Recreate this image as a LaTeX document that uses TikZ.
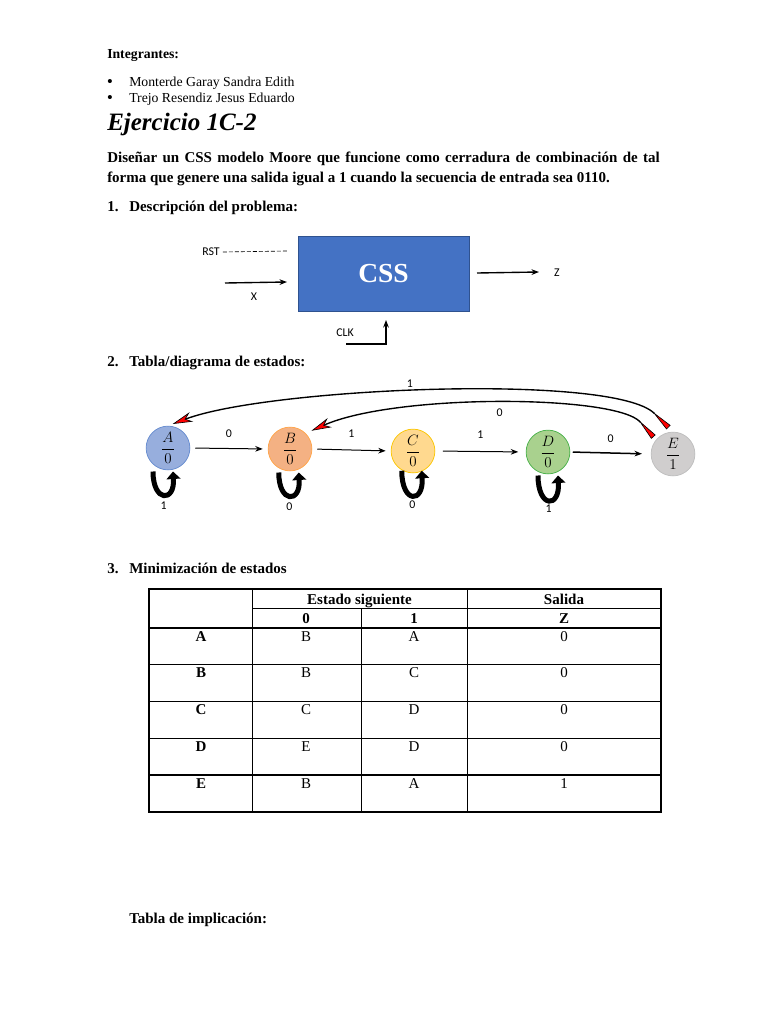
\documentclass[tikz,border=0pt]{standalone}
\usepackage{amsmath}
\usepackage{fontspec}
\setmainfont{Liberation Serif}
\newfontfamily\calibri{Carlito}
\usetikzlibrary{arrows.meta, positioning}
\definecolor{cssfondo}{HTML}{4472C4}
\definecolor{cssborde}{HTML}{2F528F}
\definecolor{azulA}{HTML}{97AEDD}
\definecolor{naranjaB}{HTML}{F4B183}
\definecolor{amarilloC}{HTML}{FFD98F}
\definecolor{verdeD}{HTML}{A9D18E}
\definecolor{grisE}{HTML}{D0CECE}

\begin{document}
\begin{tikzpicture}[x=0.8pt, y=-0.8pt, >={Stealth[length=6pt,width=4.5pt]}]
    % Estilos
    \tikzstyle{texto} = [anchor=base west, inner sep=0pt, font=\fontsize{11}{13}\selectfont]
    \tikzstyle{negrita} = [anchor=base west, inner sep=0pt, font=\bfseries\fontsize{12}{14}\selectfont]
    \tikzstyle{etiq} = [inner sep=0pt, font=\calibri\fontsize{9.5}{11}\selectfont]
    \tikzstyle{estado} = [draw, circle, minimum size=35pt, inner sep=0pt, line width=0.6pt, font=\fontsize{13}{15}\selectfont]
    \tikzstyle{lazo} = [line width=4pt, -{Triangle[length=6pt,width=11pt]}]
    \tikzstyle{curva} = [line width=1.1pt, arrows={{Triangle[reversed,length=18pt,width=4.5pt,fill=red,line width=0.5pt]}-{Stealth[length=16pt,width=8pt,inset=5pt,fill=red,line width=0.5pt]}}]
    \tikzstyle{celda} = [anchor=base, inner sep=0pt, font=\fontsize{12}{14}\selectfont]
    \tikzstyle{celdab} = [anchor=base, inner sep=0pt, font=\bfseries\fontsize{12}{14}\selectfont]

    \fill[white] (0,0) rectangle (768,1024);
    \useasboundingbox (0,0) rectangle (768,1024);

    % Encabezado
    \node[negrita, font=\bfseries\fontsize{11}{13}\selectfont] (integ) at (107,59) {Integrantes:};
    \node[texto, font=\bfseries\fontsize{12}{13}\selectfont] (bul1) at (107,87) {\textbullet};
    \node[texto] (nom1) at (129,87) {Monterde Garay Sandra Edith};
    \node[texto, font=\bfseries\fontsize{12}{13}\selectfont] (bul2) at (107,103) {\textbullet};
    \node[texto] (nom2) at (129,103) {Trejo Resendiz Jesus Eduardo};
    \node[texto, font=\bfseries\itshape\fontsize{20}{22}\selectfont] (titulo) at (107,131) {Ejercicio 1C-2};
    \node[anchor=north west, inner sep=0pt, text width=442pt, align=justify,
          font=\bfseries\fontsize{12}{16}\selectfont] (enunciado) at (107,151.5)
        {Diseñar un CSS modelo Moore que funcione como cerradura de combinación de tal\linebreak
         forma que genere una salida igual a 1 cuando la secuencia de entrada sea 0110.};

    % 1. Descripcion
    \node[negrita] (n1) at (107,212) {1.};
    \node[negrita] (sec1) at (129,212) {Descripción del problema:};
    \node[draw=cssborde, fill=cssfondo, line width=0.6pt, minimum width=136.8pt, minimum height=60pt,
          text=white, font=\bfseries\fontsize{22}{24}\selectfont] (css) at (383.5,273.5) {CSS};
    \node[etiq] (rst) at (211,252) {RST};
    \coordinate (rstfin) at (287,251);
    \draw[dash pattern=on 3.2pt off 1.6pt, line width=0.5pt] (rst.east) ++(3,0) -- (rstfin);
    \coordinate (xini) at (225,283);
    \coordinate (xfin) at (287,282);
    \draw[->, line width=1.1pt] (xini) -- (xfin);
    \node[etiq] (xlab) at (254,297) {X};
    \coordinate (zini) at (477,273);
    \coordinate (zfin) at (539,272);
    \draw[->, line width=1.1pt] (zini) -- (zfin);
    \node[etiq] (zlab) at (557,273) {Z};
    \node[etiq] (clk) at (345,333) {CLK};
    \coordinate (clkini) at (346,344);
    \coordinate (clkfin) at (386,320);
    \draw[->, line width=1.1pt] (clkini) -| (clkfin);

    % 2. Diagrama de estados
    \node[negrita] (n2) at (107,366) {2.};
    \node[negrita] (sec2) at (129,366) {Tabla/diagrama de estados:};
    \node[estado, draw=cssfondo!80, fill=azulA] (A) at (168,448) {$\dfrac{A}{0}$};
    \node[estado, draw=orange!70, fill=naranjaB] (B) at (290,449) {$\dfrac{B}{0}$};
    \node[estado, draw=yellow!60!orange, fill=amarilloC] (C) at (413,451) {$\dfrac{C}{0}$};
    \node[estado, draw=green!40!gray, fill=verdeD] (D) at (548,452) {$\dfrac{D}{0}$};
    \node[estado, draw=gray!50, fill=grisE] (E) at (673,454) {$\dfrac{E}{1}$};

    \draw[->, line width=0.8pt, shorten <=4pt, shorten >=4pt] (A.east) -- node[etiq, midway, above=8pt] (e1) {0} (B.west);
    \draw[->, line width=0.8pt, shorten <=4pt, shorten >=4pt] (B.east) -- node[etiq, midway, above=10pt] (e2) {1} (C.west);
    \draw[->, line width=0.8pt, shorten <=6pt, shorten >=6pt] (C.east) -- node[etiq, midway, above=10pt] (e3) {1} (D.west);
    \draw[->, line width=1.2pt, shorten <=2pt, shorten >=7pt] (D.east) -- node[etiq, midway, above=8pt] (e4) {0} (E.west);

    \draw[curva, shorten <=5pt, shorten >=4pt] (E.north) .. controls +(-60,-59) and +(100,-38) .. node[etiq, pos=0.54, above=4pt] (e5) {1} (A.north);
    \draw[curva, shorten <=3pt, shorten >=5pt] (E.140) .. controls +(-40,-45) and +(90,-40) .. node[etiq, pos=0.5, below=3pt] (e6) {0} (B.45);

    % Lazos
    \draw[lazo] ([xshift=-12pt, yshift=-1pt]A.south) .. controls +(0,31) and +(2,31) .. node[etiq, pos=0.5, below=4pt] (l1) {1} ([xshift=4pt, yshift=-1pt]A.south);
    \draw[lazo] ([xshift=-9pt, yshift=-1pt]B.south) .. controls +(0,31) and +(2,31) .. node[etiq, pos=0.5, below=4pt] (l2) {0} ([xshift=7pt, yshift=-1pt]B.south);
    \draw[lazo] ([xshift=-9pt, yshift=2pt]C.south) .. controls +(0,33) and +(2,33) .. node[etiq, pos=0.5, below=2pt] (l3) {0} ([xshift=7pt, yshift=2pt]C.south);
    \draw[lazo] ([xshift=-8pt, yshift=-1pt]D.south) .. controls +(0,33) and +(2,33) .. node[etiq, pos=0.5, below=1.5pt] (l4) {1} ([xshift=8pt, yshift=-1pt]D.south);

    % 3. Tabla
    \node[negrita] (n3) at (107,573) {3.};
    \node[negrita] (sec3) at (129,573) {Minimización de estados};
    \draw[line width=1pt] (149,589) rectangle (661,812);
    \draw[line width=0.6pt] (252,589) -- (252,812) (467,589) -- (467,812)
                            (361,608) -- (361,812) (252,608) -- (661,608);
    \draw[line width=1.4pt] (149,628) -- (661,628) (149,775) -- (661,775);
    \foreach \y in {664,701,738}
        \draw[line width=0.6pt] (149,\y) -- (661,\y);
    \node[celdab] (hes) at (359.5,604) {Estado siguiente};
    \node[celdab] (hsal) at (564,604) {Salida};
    \node[celdab] (h0) at (306,623) {0};
    \node[celdab] (h1) at (414,623) {1};
    \node[celdab] (hz) at (564,623) {Z};
    \foreach \s/\a/\b/\z [count=\i from 0] in {A/B/A/0, B/B/C/0, C/C/D/0, D/E/D/0, E/B/A/1} {
        \node[celdab] (f\s) at (201,641+36.8*\i) {\s};
        \node[celda] (f\s0) at (306,641+36.8*\i) {\a};
        \node[celda] (f\s1) at (414,641+36.8*\i) {\b};
        \node[celda] (f\s z) at (564,641+36.8*\i) {\z};
    }

    \node[negrita] (impl) at (129,923) {Tabla de implicación:};
\end{tikzpicture}
\end{document}
